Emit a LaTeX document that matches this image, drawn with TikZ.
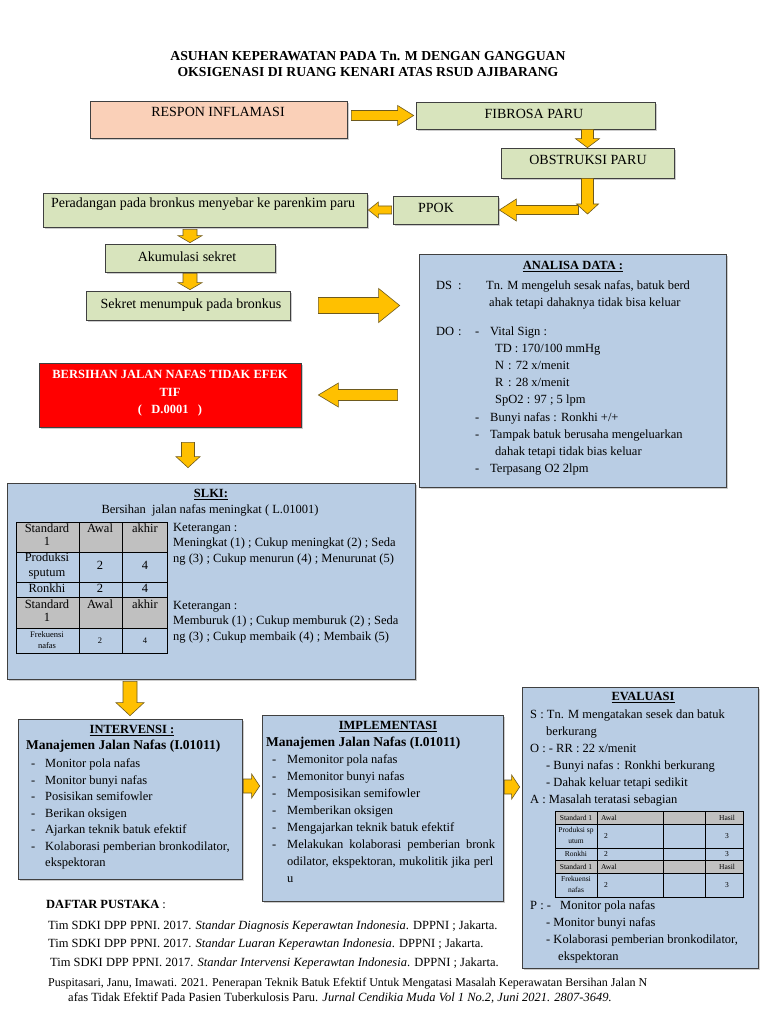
\documentclass[tikz,border=0pt]{standalone}
\usepackage{fontspec}
\setmainfont{Liberation Serif}
\usetikzlibrary{calc,fit,shadows}
\definecolor{peach}{RGB}{250,208,184}
\definecolor{flowgreen}{RGB}{216,228,189}
\definecolor{boxblue}{RGB}{185,205,228}
\definecolor{alarmred}{RGB}{255,0,0}
\definecolor{tgray}{RGB}{192,192,192}
\definecolor{arrowgold}{RGB}{255,192,0}
\definecolor{arrowedge}{RGB}{110,90,30}
\newcommand\fbody{\fontsize{12.5}{15}\selectfont}
\newcommand\fref{\fontsize{12}{15}\selectfont}
\newcommand\fflow{\fontsize{14}{17}\selectfont}
\newcommand\ftitle{\fontsize{13.7}{16}\selectfont}
\newcommand\fhead{\fontsize{13.5}{16}\selectfont}
\newcommand\fsmall{\fontsize{8.5}{10}\selectfont}
\newcommand\ftiny{\fontsize{7.5}{9}\selectfont}
\newcounter{tn}
\newcommand\tx[4][]{\stepcounter{tn}\node[txt,#1] (t\number\value{tn}) at (#2,-#3) {#4};}
\newcommand\ctx[4][]{\stepcounter{tn}\node[txt,anchor=center,#1] (t\number\value{tn}) at (#2,-#3) {#4};}
\newcommand\barrow[5]{%
\filldraw[blockarrow] let \p1=#1, \p2=#2,
 \n1={atan2(\y2-\y1,\x2-\x1)}, \n2={veclen(\x2-\x1,\y2-\y1)} in
 ({\x1-(#3)*sin(\n1)},{\y1+(#3)*cos(\n1)})
 -- ({\x1+(\n2-(#5))*cos(\n1)-(#3)*sin(\n1)},{\y1+(\n2-(#5))*sin(\n1)+(#3)*cos(\n1)})
 -- ({\x1+(\n2-(#5))*cos(\n1)-(#4)*sin(\n1)},{\y1+(\n2-(#5))*sin(\n1)+(#4)*cos(\n1)})
 -- ({\x1+(\n2)*cos(\n1)},{\y1+(\n2)*sin(\n1)})
 -- ({\x1+(\n2-(#5))*cos(\n1)+(#4)*sin(\n1)},{\y1+(\n2-(#5))*sin(\n1)-(#4)*cos(\n1)})
 -- ({\x1+(\n2-(#5))*cos(\n1)+(#3)*sin(\n1)},{\y1+(\n2-(#5))*sin(\n1)-(#3)*cos(\n1)})
 -- ({\x1+(#3)*sin(\n1)},{\y1-(#3)*cos(\n1)}) -- cycle;}
\begin{document}
\begin{tikzpicture}[x=1pt,y=1pt,
  box/.style={draw=black!75, line width=0.7pt, inner sep=0pt,
    drop shadow={shadow xshift=1.6pt, shadow yshift=-1.6pt, opacity=0.4}},
  blockarrow/.style={fill=arrowgold, draw=arrowedge, line width=0.6pt, line join=miter},
  tline/.style={draw=black, line width=0.6pt},
  txt/.style={inner sep=0pt, text height=1.5ex, text depth=.25ex, anchor=west, font=\fbody}]
\useasboundingbox[fill=white] (0,0) rectangle (768,-1024);

% ---------- title
\ctx[font=\ftitle\bfseries]{368}{58}{ASUHAN KEPERAWATAN PADA Tn. M DENGAN GANGGUAN}
\ctx[font=\ftitle\bfseries]{368}{74}{OKSIGENASI DI RUANG KENARI ATAS RSUD AJIBARANG}

% ---------- boxes
\node[box, fill=peach, fit={(90,-101)(347,-138)}] (respon) {};
\node[box, fill=flowgreen, fit={(416,-102)(655,-129)}] (fibrosa) {};
\node[box, fill=flowgreen, fit={(501,-148)(674,-178)}] (obstruksi) {};
\node[box, fill=flowgreen, fit={(393,-196)(498,-224)}] (ppok) {};
\node[box, fill=flowgreen, fit={(43,-193)(367,-227)}] (peradangan) {};
\node[box, fill=flowgreen, fit={(105,-244)(275,-272)}] (akumulasi) {};
\node[box, fill=flowgreen, fit={(86,-291)(290,-320)}] (sekret) {};
\node[box, fill=boxblue, fit={(419,-254)(726,-487)}] (analisa) {};
\node[box, fill=alarmred, fit={(39,-363)(301,-427)}] (bersihan) {};
\node[box, fill=boxblue, fit={(7,-483)(415,-679)}] (slki) {};
\node[box, fill=boxblue, fit={(18,-719)(242,-879)}] (intervensi) {};
\node[box, fill=boxblue, fit={(262,-715)(503,-901)}] (implementasi) {};
\node[box, fill=boxblue, fit={(522,-687)(758,-968)}] (evaluasi) {};

% ---------- block arrows
\barrow{([xshift=4pt]fibrosa.west -| respon.east)}{([xshift=-2pt]fibrosa.west)}{5}{10}{16}
\barrow{(obstruksi.north |- fibrosa.south)}{(obstruksi.north)}{6}{12}{9}
\barrow{($(obstruksi.south |- ppok.east)+(-9,0)$)}{([xshift=1pt]ppok.east)}{4.5}{11}{17}
\barrow{(obstruksi.south)}{($(obstruksi.south |- ppok.east)+(0,-4)$)}{6}{11}{10}
\barrow{([xshift=-1pt]ppok.west)}{([xshift=1pt]ppok.west -| peradangan.east)}{4}{8}{10}
\barrow{([yshift=-2pt]akumulasi.north |- peradangan.south)}{([yshift=1pt]akumulasi.north)}{7}{12}{7}
\barrow{([yshift=-1pt]akumulasi.south)}{([yshift=1pt]akumulasi.south |- sekret.north)}{7}{12}{7}
\barrow{([xshift=28pt]sekret.east)}{([xshift=-19pt]sekret.east -| analisa.west)}{8}{17}{21}
\barrow{([xshift=-21pt]bersihan.east -| analisa.west)}{([xshift=17pt]bersihan.east)}{5.5}{12}{20}
\barrow{($(bersihan.south)+(18,-15)$)}{($(bersihan.south |- slki.north)+(18,15)$)}{6.5}{12}{11}
\barrow{([yshift=-2pt]intervensi.north |- slki.south)}{([yshift=3pt]intervensi.north)}{7}{14}{13}
\barrow{($(intervensi.east)+(1,13)$)}{($(intervensi.east -| implementasi.west)+(-2,13)$)}{7}{12}{8}
\barrow{($(implementasi.east)+(1,21)$)}{($(implementasi.east -| evaluasi.west)+(-2,21)$)}{7}{12}{8}

% ---------- flow texts
\ctx[font=\fflow]{218}{114}{RESPON INFLAMASI}
\ctx[font=\fflow]{534}{116}{FIBROSA PARU}
\ctx[font=\fflow]{588}{162}{OBSTRUKSI PARU}
\ctx[font=\fflow]{436}{210}{PPOK}
\ctx[font=\fflow]{203}{205}{Peradangan pada bronkus menyebar ke parenkim paru}
\ctx[font=\fflow]{187}{259}{Akumulasi sekret}
\ctx[font=\fflow]{191}{306}{Sekret menumpuk pada bronkus}

% ---------- analisa data
\ctx[font=\fbody\bfseries]{573}{267}{\underline{ANALISA DATA :}}
\tx{436}{287}{DS} \tx{458}{287}{:}
\tx{486}{287}{Tn. M mengeluh sesak nafas, batuk berd}
\tx{489}{304}{ahak tetapi dahaknya tidak bisa keluar}
\tx{436}{333}{DO} \tx{458}{333}{:} \tx{475}{333}{-}
\tx{490}{333}{Vital Sign :}
\tx{495}{350}{TD : 170/100 mmHg}
\tx{495}{367}{N} \tx{508}{367}{: 72 x/menit}
\tx{495}{384}{R} \tx{508}{384}{: 28 x/menit}
\tx{495}{401}{SpO2 : 97 ; 5 lpm}
\tx{475}{419}{-} \tx{490}{419}{Bunyi nafas : Ronkhi +/+}
\tx{475}{436}{-} \tx{490}{436}{Tampak batuk berusaha mengeluarkan}
\tx{495}{453}{dahak tetapi tidak bias keluar}
\tx{475}{470}{-} \tx{490}{470}{Terpasang O2 2lpm}

% ---------- diagnosis
\ctx[font=\fbody\bfseries, text=white]{170}{376}{BERSIHAN JALAN NAFAS TIDAK EFEK}
\ctx[font=\fbody\bfseries, text=white]{170}{394}{TIF}
\ctx[font=\fbody\bfseries, text=white]{170}{411}{(\ \ \ D.0001\ \ \ )}

% ---------- SLKI
\ctx[font=\fbody\bfseries]{211}{495}{\underline{SLKI:}}
\ctx{210}{511}{Bersihan\ \ jalan nafas meningkat ( L.01001)}
\fill[tgray] (16,-522) rectangle (167,-552);
\fill[tgray] (16,-597) rectangle (167,-628);
\draw[tline] (16,-522) rectangle (167,-653);
\foreach \xx in {79,122} \draw[tline] (\xx,-522) -- (\xx,-653);
\foreach \yy in {552,582,597,628} \draw[tline] (16,-\yy) -- (167,-\yy);
\ctx{47}{530}{Standard} \ctx{47}{543}{1} \ctx{100}{530}{Awal} \ctx{145}{530}{akhir}
\ctx{47}{559}{Produksi} \ctx{47}{574}{sputum} \ctx{100}{567}{2} \ctx{145}{567}{4}
\ctx{47}{590}{Ronkhi} \ctx{100}{590}{2} \ctx{145}{590}{4}
\ctx{47}{606}{Standard} \ctx{47}{619}{1} \ctx{100}{606}{Awal} \ctx{145}{606}{akhir}
\ctx[font=\fsmall]{47}{635}{Frekuensi} \ctx[font=\fsmall]{47}{646}{nafas}
\ctx[font=\fsmall]{100}{641}{2} \ctx[font=\fsmall]{145}{641}{4}
\tx{173}{529}{Keterangan :}
\tx{173}{544}{Meningkat (1) ; Cukup meningkat (2) ; Seda}
\tx{173}{560}{ng (3) ; Cukup menurun (4) ; Menurunat (5)}
\tx{173}{607}{Keterangan :}
\tx{173}{622}{Memburuk (1) ; Cukup memburuk (2) ; Seda}
\tx{173}{638}{ng (3) ; Cukup membaik (4) ; Membaik (5)}

% ---------- intervensi
\ctx[font=\fbody\bfseries]{132}{731}{\underline{INTERVENSI :}}
\tx[font=\fhead\bfseries]{26}{747}{Manajemen Jalan Nafas (I.01011)}
\foreach \yy/\tt in {765/Monitor pola nafas, 782/Monitor bunyi nafas, 798/Posisikan semifowler,
  815/Berikan oksigen, 831/Ajarkan teknik batuk efektif, 848/{Kolaborasi pemberian bronkodilator,}}
  {\tx{31}{\yy}{-} \tx{45}{\yy}{\tt}}
\tx{45}{864}{ekspektoran}

% ---------- implementasi
\ctx[font=\fbody\bfseries]{388}{727}{\underline{IMPLEMENTASI}}
\tx[font=\fhead\bfseries]{266}{744}{Manajemen Jalan Nafas (I.01011)}
\foreach \yy/\tt in {761/Memonitor pola nafas, 778/Memonitor bunyi nafas, 795/Memposisikan semifowler,
  812/Memberikan oksigen, 829/Mengajarkan teknik batuk efektif}
  {\tx{272}{\yy}{-} \tx{287}{\yy}{\tt}}
\tx{272}{846}{-} \tx{287}{846}{\makebox[208pt][s]{Melakukan kolaborasi pemberian bronk}}
\tx{287}{863}{\makebox[206pt][s]{odilator, ekspektoran, mukolitik jika perl}}
\tx{287}{880}{u}

% ---------- evaluasi
\ctx[font=\fbody\bfseries]{643}{698}{\underline{EVALUASI}}
\tx{530}{716}{S : Tn. M mengatakan sesek dan batuk}
\tx{546}{733}{berkurang}
\tx{530}{750}{O : - RR : 22 x/menit}
\tx{546}{767}{- Bunyi nafas : Ronkhi berkurang}
\tx{546}{784}{- Dahak keluar tetapi sedikit}
\tx{530}{801}{A : Masalah teratasi sebagian}
\fill[tgray] (555,-811) rectangle (743,-824);
\fill[tgray] (555,-860) rectangle (743,-873);
\draw[tline] (555,-811) rectangle (743,-897);
\foreach \xx in {597,663,705} \draw[tline] (\xx,-811) -- (\xx,-897);
\foreach \yy in {824,848,860,873} \draw[tline] (555,-\yy) -- (743,-\yy);
\ctx[font=\ftiny]{576}{817.5}{Standard 1} \tx[font=\ftiny]{601}{817.5}{Awal} \ctx[font=\ftiny]{727}{817.5}{Hasil}
\ctx[font=\ftiny]{576}{830}{Produksi sp} \ctx[font=\ftiny]{576}{841}{utum}
\ctx[font=\ftiny]{606}{836}{2} \ctx[font=\ftiny]{727}{836}{3}
\ctx[font=\ftiny]{576}{854}{Ronkhi} \ctx[font=\ftiny]{606}{854}{2} \ctx[font=\ftiny]{727}{854}{3}
\ctx[font=\ftiny]{576}{866.5}{Standard 1} \tx[font=\ftiny]{601}{866.5}{Awal} \ctx[font=\ftiny]{727}{866.5}{Hasil}
\ctx[font=\ftiny]{576}{879}{Frekuensi} \ctx[font=\ftiny]{576}{890}{nafas}
\ctx[font=\ftiny]{606}{885}{2} \ctx[font=\ftiny]{727}{885}{3}
\tx{530}{907}{P : -} \tx{560}{907}{Monitor pola nafas}
\tx{546}{924}{- Monitor bunyi nafas}
\tx{546}{941}{- Kolaborasi pemberian bronkodilator,}
\tx{558}{958}{ekspektoran}

% ---------- daftar pustaka
\tx{46}{906}{\textbf{DAFTAR PUSTAKA} :}
\tx{48}{927}{Tim SDKI DPP PPNI. 2017. \textit{Standar Diagnosis Keperawtan Indonesia}. DPPNI ; Jakarta.}
\tx{48}{945}{Tim SDKI DPP PPNI. 2017. \textit{Standar Luaran Keperawtan Indonesia}. DPPNI ; Jakarta.}
\tx{50}{964}{Tim SDKI DPP PPNI. 2017. \textit{Standar Intervensi Keperawtan Indonesia}. DPPNI ; Jakarta.}
\tx[font=\fref]{48}{984}{Puspitasari, Janu, Imawati. 2021. Penerapan Teknik Batuk Efektif Untuk Mengatasi Masalah Keperawatan Bersihan Jalan N}
\tx{68}{999}{afas Tidak Efektif Pada Pasien Tuberkulosis Paru. \textit{Jurnal Cendikia Muda Vol 1 No.2, Juni 2021. 2807-3649.}}
\end{tikzpicture}
\end{document}
